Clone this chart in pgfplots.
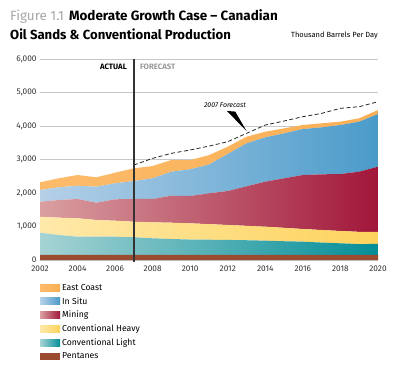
\documentclass[border=0pt]{standalone}
\usepackage{fontspec}
\setmainfont{Fira Sans}
\usepackage{pgfplots}
\pgfplotsset{compat=1.18}
\definecolor{ecL}{HTML}{FDBB6A}
\definecolor{ecR}{HTML}{F9AF55}
\definecolor{isL}{HTML}{B6D0E8}
\definecolor{isR}{HTML}{4A9BCA}
\definecolor{mnL}{HTML}{DA9FA1}
\definecolor{mnR}{HTML}{A1163A}
\definecolor{hvL}{HTML}{FFE9AA}
\definecolor{hvR}{HTML}{FDD35C}
\definecolor{ltL}{HTML}{A6D3D4}
\definecolor{ltR}{HTML}{038E98}
\definecolor{pen}{HTML}{9A4B30}
\pgfplotstableread{
year P L H M IS EC
2002 150 665 475 450 350 230
2003 150 596 517 528 379 269
2004 150 546 549 576 397 319
2005 150 546 498 516 478 281
2006 150 546 477 639 478 316
2007 150 528 465 678 537 379
2008 150 498 477 696 619 366
2009 150 477 486 806 717 349
2010 150 460 485 815 797 278
2011 150 455 465 920 860 280
2012 150 450 445 1015 1104 219
2013 150 440 430 1180 1283 197
2014 150 427 418 1343 1324 168
2015 150 410 400 1478 1343 149
2016 150 397 378 1612 1373 120
2017 150 370 375 1662 1403 120
2018 150 348 368 1701 1463 100
2019 150 325 365 1796 1494 100
2020 150 330 360 1945 1573 120
}\prod
\pgfplotstableread{
year F
2007 2836
2008 3035
2009 3184
2010 3284
2011 3400
2012 3532
2013 3781
2014 4030
2015 4149
2016 4278
2017 4378
2018 4528
2019 4577
2020 4725
}\fcst
\begin{document}
\begin{tikzpicture}
\useasboundingbox (-40bp,-110bp) rectangle (360bp,260bp);
\pgfplotsset{
  base/.style={at={(0,0)}, anchor=south west, scale only axis,
    width=338bp, height=201bp, xmin=2002, xmax=2020, ymin=0, ymax=6000},
}
\begin{axis}[base,
  stack plots=y,
  axis line style={draw=none}, tick style={draw=none},
  ymajorgrids, grid style={black!22, line width=0.7bp},
  ytick={0,1000,...,6000}, xtick={2002,2004,...,2020},
  /pgf/number format/assume math mode=true,
  x tick label style={/pgf/number format/.cd,1000 sep={}, /tikz/.cd, yshift=-2.5bp},
  y tick label style={/pgf/number format/.cd,1000 sep={,}},
  tick label style={font=\fontsize{8.3}{10}\selectfont, text=black!80},
  reverse legend,
  legend image code/.code={\path[#1] (0bp,-3.5bp) rectangle (20bp,3.5bp);},
  legend cell align=left,
  legend style={at={(axis description cs:0,0)}, anchor=north west, xshift=0bp, yshift=-22bp,
    draw=none, fill=none, inner sep=0pt, row sep=1.6bp,
    font=\fontsize{8.7}{10}\selectfont,
    /tikz/every even column/.style={column sep=7bp}},
]
\addplot[draw=none, fill=pen] table[x=year,y=P] {\prod} \closedcycle;
\addlegendentry{Pentanes}
\addplot[draw=none, left color=ltL, right color=ltR] table[x=year,y=L] {\prod} \closedcycle;
\addlegendentry{Conventional Light}
\addplot[draw=none, left color=hvL, right color=hvR] table[x=year,y=H] {\prod} \closedcycle;
\addlegendentry{Conventional Heavy}
\addplot[draw=none, left color=mnL, right color=mnR] table[x=year,y=M] {\prod} \closedcycle;
\addlegendentry{Mining}
\addplot[draw=none, left color=isL, right color=isR] table[x=year,y=IS] {\prod} \closedcycle;
\addlegendentry{In Situ}
\addplot[draw=none, left color=ecL, right color=ecR] table[x=year,y=EC] {\prod} \closedcycle;
\addlegendentry{East Coast}
\end{axis}
\begin{axis}[base, hide axis, clip=false]
\addplot[black!85, line width=0.8bp, dash pattern=on 4bp off 2.5bp] table[x=year,y=F] {\fcst};
\draw[black!80, line width=1.6bp] (axis cs:2007,-60) -- (axis cs:2007,6000);
\node[anchor=base east, inner sep=0, font=\fontsize{7.8}{9}\selectfont\bfseries] at (axis cs:2006.63,5672) {ACTUAL};
\node[anchor=base west, inner sep=0, font=\fontsize{7.8}{9}\selectfont\bfseries, text=black!40] at (axis cs:2007.32,5672) {FORECAST};
\node[inner sep=0, font=\fontsize{7}{8}\selectfont\itshape] at (axis cs:2011.85,4627) {2007 Forecast};
\fill[black] (axis cs:2011.95,4450) -- (axis cs:2012.4,4430) -- (axis cs:2013.0,3850) -- cycle;
\end{axis}
\node[anchor=base west, inner sep=0] at (-30bp,239bp) {\fontsize{13.5}{16}\selectfont{\color{black!35}Figure 1.1}\hspace{5bp}\bfseries Moderate Growth Case – Canadian};
\node[anchor=base west, inner sep=0] at (-30bp,220bp) {\fontsize{13.2}{16}\selectfont\bfseries Oil Sands \& Conventional Production};
\node[anchor=base east, inner sep=0, font=\fontsize{7.5}{9}\selectfont] at (338bp,222bp) {Thousand Barrels Per Day};
\end{tikzpicture}
\end{document}
